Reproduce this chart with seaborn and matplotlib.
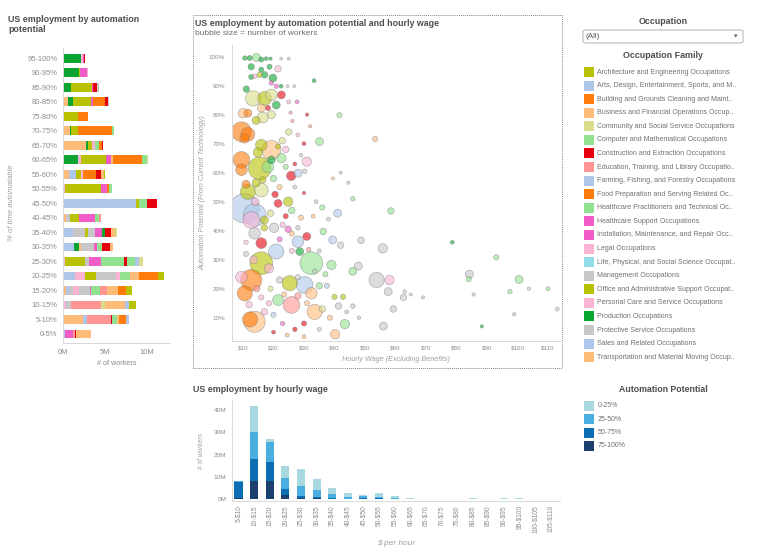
"""US employment by automation potential and hourly wage dashboard."""

import matplotlib.pyplot as plt
from matplotlib.patches import Rectangle, FancyBboxPatch
import seaborn as sns
import pandas as pd

W, H = 768, 555

# ---- occupation families (legend order) ----
FAMILIES = [
    "Architecture and Engineering Occupations",
    "Arts, Design, Entertainment, Sports, and Media Occupations",
    "Building and Grounds Cleaning and Maintenance Occupations",
    "Business and Financial Operations Occupations",
    "Community and Social Service Occupations",
    "Computer and Mathematical Occupations",
    "Construction and Extraction Occupations",
    "Education, Training, and Library Occupations",
    "Farming, Fishing, and Forestry Occupations",
    "Food Preparation and Serving Related Occupations",
    "Healthcare Practitioners and Technical Occupations",
    "Healthcare Support Occupations",
    "Installation, Maintenance, and Repair Occupations",
    "Legal Occupations",
    "Life, Physical, and Social Science Occupations",
    "Management Occupations",
    "Office and Administrative Support Occupations",
    "Personal Care and Service Occupations",
    "Production Occupations",
    "Protective Service Occupations",
    "Sales and Related Occupations",
    "Transportation and Material Moving Occupations",
]
FAMILY_LABELS = [
    "Architecture and Engineering Occupations",
    "Arts, Design, Entertainment, Sports, and M..",
    "Building and Grounds Cleaning and Maint..",
    "Business and Financial Operations Occup..",
    "Community and Social Service Occupations",
    "Computer and Mathematical Occupations",
    "Construction and Extraction Occupations",
    "Education, Training, and Library Occupatio..",
    "Farming, Fishing, and Forestry Occupations",
    "Food Preparation and Serving Related Oc..",
    "Healthcare Practitioners and Technical Oc..",
    "Healthcare Support Occupations",
    "Installation, Maintenance, and Repair Occ..",
    "Legal Occupations",
    "Life, Physical, and Social Science Occupat..",
    "Management Occupations",
    "Office and Administrative Support Occupat..",
    "Personal Care and Service Occupations",
    "Production Occupations",
    "Protective Service Occupations",
    "Sales and Related Occupations",
    "Transportation and Material Moving Occup..",
]
FAMILY_COLORS = [
    "#b8c200", "#aec7e8", "#ff7b0a", "#ffbb78", "#d9dc8a", "#90e28e",
    "#e6000e", "#ff9492", "#aec7e8", "#ff7b0a", "#90e28e", "#f25cc6",
    "#f25cc6", "#f9b4d4", "#92dde8", "#c7c7c7", "#b8c200", "#f9b4d4",
    "#0aa531", "#c7c7c7", "#aec7e8", "#ffbb78",
]

# ---- left chart: workers (M) per automation band, stacked by family ----
AUTO_BANDS = ["95-100%", "90-95%", "85-90%", "80-85%", "75-80%", "70-75%",
              "65-70%", "60-65%", "55-60%", "50-55%", "45-50%", "40-45%",
              "35-40%", "30-35%", "25-30%", "20-25%", "15-20%", "10-15%",
              "5-10%", "0-5%"]
band_families = [
    [18, 17, 11, 6],
    [18, 16, 11, 17],
    [18, 16, 11, 6, 15],
    [21, 20, 18, 16, 11, 9, 6, 15],
    [16, 9],
    [21, 18, 16, 9, 10],
    [21, 18, 16, 17, 10, 9, 6],
    [18, 17, 16, 11, 21, 9, 10, 4],
    [21, 20, 16, 17, 9, 6, 21, 16],
    [17, 16, 11, 9, 10],
    [20, 16, 10, 6, 15],
    [21, 15, 16, 11, 10, 7],
    [20, 15, 16, 15, 11, 18, 6, 21, 4],
    [20, 18, 21, 15, 11, 10, 6, 21],
    [17, 16, 15, 11, 10, 6, 10, 20, 4],
    [20, 17, 16, 15, 17, 10, 21, 9, 16],
    [21, 20, 15, 17, 15, 11, 10, 7, 21, 9, 16],
    [17, 15, 7, 4, 21, 20, 16],
    [21, 20, 7, 6, 10, 21, 9, 20],
    [20, 11, 7, 6, 21],
]
band_workers = [
    [2.15, 0.2, 0.15, 0.08],
    [1.9, 0.15, 0.8, 0.1],
    [0.9, 2.55, 0.15, 0.5, 0.15],
    [0.55, 0.1, 0.6, 2.1, 0.25, 1.45, 0.3, 0.1],
    [1.8, 1.15],
    [0.8, 0.15, 0.8, 4.1, 0.3],
    [2.8, 0.15, 0.5, 0.4, 0.4, 0.45, 0.1],
    [1.8, 0.4, 3.0, 0.5, 0.25, 3.5, 0.6, 0.1],
    [0.7, 0.9, 0.6, 0.2, 1.6, 0.6, 0.3, 0.15],
    [0.25, 4.3, 0.7, 0.3, 0.3],
    [8.7, 0.4, 0.95, 1.2, 0.05],
    [0.3, 0.5, 1.1, 1.9, 0.5, 0.2],
    [1.2, 1.45, 0.4, 0.75, 0.9, 0.3, 0.8, 0.4, 0.25],
    [1.3, 0.65, 0.25, 1.45, 0.4, 0.6, 1.0, 0.3],
    [0.25, 2.35, 0.5, 1.4, 2.8, 0.3, 1.0, 0.5, 0.5],
    [1.4, 1.2, 1.4, 2.3, 0.55, 1.2, 1.1, 2.2, 0.7],
    [0.3, 0.4, 0.55, 0.65, 1.3, 0.2, 1.05, 0.8, 1.3, 0.95, 0.7],
    [0.4, 0.6, 3.5, 0.5, 2.45, 0.5, 0.8],
    [2.4, 0.5, 2.9, 0.1, 0.55, 0.25, 0.8, 0.4],
    [0.25, 0.9, 0.3, 0.1, 1.85],
]

# ---- bubble chart: one bubble per occupation ----
bub_wage = [
    10.6, 12.2, 14.4, 16.0, 17.6, 19.0, 22.5, 25.0, 12.7, 12.7, 16.0, 18.7,
    21.5, 15.4, 13.9, 17.1, 19.8, 19.3, 20.9, 22.5, 24.6, 26.8, 33.3, 11.1,
    13.3, 17.1, 19.3, 22.6, 20.9, 25.0, 27.7, 10.0, 11.6, 16.0, 18.2, 14.3,
    16.5, 19.3, 25.6, 26.2, 41.6, 9.5, 11.6, 10.5, 35.1, 53.3, 19.3, 16.0,
    14.9, 21.5, 24.0, 22.9, 25.0, 9.5, 9.5, 15.5, 18.2, 19.3, 22.6, 30.9,
    25.8, 28.0, 30.2, 11.0, 14.3, 16.5, 11.6, 16.0, 20.5, 24.8, 21.5, 10.5,
    13.8, 12.7, 17.0, 46.0, 58.5, 41.0, 13.8, 16.0, 17.0, 20.2, 23.0, 24.8,
    28.0, 30.9, 36.3, 39.4, 42.0, 48.7, 55.8, 16.0, 20.9, 18.5, 28.6, 32.4,
    39.0, 47.8, 46.0, 12.7, 9.5, 10.6, 25.3, 30.2, 32.4, 21.5, 25.9, 13.8,
    12.3, 33.5, 53.8, 58.0, 57.6, 62.6, 59.3, 56.0, 43.4, 40.2, 41.3, 40.0,
    42.8, 78.6, 84.2, 84.0, 85.6, 88.3, 93.0, 97.5, 100.5, 103.7, 98.9, 110.0,
    113.0, 69.0, 65.0, 63.0, 27.0, 30.0, 34.0, 36.0, 38.0, 33.0, 26.0, 29.0,
    24.0, 22.0, 26.0, 35.0, 37.0, 35.0, 37.5, 28.0, 22.0, 19.0, 23.5, 28.0,
    31.0, 36.0, 38.5, 30.0, 27.0, 23.0, 20.0, 17.0, 20.0, 44.0, 46.0, 48.0,
    30.0, 24.5, 35.0, 32.0, 31.0, 28.0, 30.0, 29.0, 42.0, 44.5, 39.5, 24.0,
    27.0, 20.0, 22.0, 14.0, 19.0, 11.0, 13.5, 11.0, 14.5, 16.0, 18.5, 12.0,
    26.0, 28.0, 33.5, 31.5,
]
bub_auto = [
    99.5, 99.5, 99.7, 99.0, 99.3, 99.3, 99.3, 99.3, 96.5, 93.0, 95.5, 96.5,
    95.8, 93.7, 93.2, 93.7, 92.6, 90.9, 89.8, 89.8, 89.8, 89.8, 91.7, 88.8,
    85.6, 85.6, 86.8, 86.8, 83.3, 84.4, 84.4, 80.5, 80.5, 82.3, 82.3, 78.0,
    79.0, 80.0, 80.7, 77.8, 79.8, 74.1, 73.2, 71.8, 70.7, 71.6, 67.8, 69.5,
    67.0, 69.0, 68.0, 71.0, 74.0, 64.4, 61.0, 61.5, 62.0, 64.4, 65.0, 63.8,
    58.9, 59.8, 60.5, 56.0, 56.5, 57.5, 53.4, 54.0, 52.5, 50.0, 49.4, 47.7,
    45.4, 43.7, 43.7, 51.0, 46.8, 46.0, 39.1, 35.7, 41.0, 41.0, 42.0, 40.5,
    36.2, 38.0, 39.7, 36.8, 35.0, 36.7, 33.9, 28.8, 32.8, 27.0, 32.8, 28.8,
    28.2, 27.8, 26.0, 23.0, 24.0, 18.4, 21.9, 21.3, 18.4, 16.1, 14.4, 8.6,
    9.4, 12.0, 23.0, 23.0, 19.0, 17.0, 13.0, 7.1, 7.8, 4.3, 14.0, 17.2,
    17.2, 36.0, 25.0, 23.3, 18.0, 7.0, 30.8, 19.0, 23.2, 20.0, 11.2, 20.0,
    13.0, 17.0, 18.0, 19.0, 55.0, 53.0, 50.0, 48.0, 44.0, 45.0, 47.0, 44.5,
    45.0, 37.0, 33.0, 33.0, 25.0, 21.0, 21.0, 24.0, 23.0, 20.0, 18.0, 17.5,
    15.0, 13.0, 10.0, 8.0, 6.0, 8.0, 5.0, 12.0, 11.0, 12.0, 14.0, 10.0,
    3.5, 4.0, 6.0, 76.0, 80.0, 73.0, 70.0, 66.0, 60.0, 56.5, 58.0, 62.0,
    63.0, 58.0, 55.0, 50.0, 46.0, 32.0, 30.0, 36.0, 20.0, 17.0, 15.0, 14.5,
    39.0, 41.0, 26.0, 33.5,
]
bub_workers = [
    0.075, 0.11, 0.30, 0.11, 0.05, 0.03, 0.012, 0.012, 0.19, 0.11, 0.11, 0.11,
    0.19, 0.11, 0.075, 0.19, 0.30, 0.075, 0.075, 0.05, 0.012, 0.012, 0.05, 0.19,
    1.18, 0.96, 0.67, 0.30, 0.30, 0.05, 0.05, 0.43, 0.30, 0.30, 0.11, 0.30,
    0.58, 0.30, 0.027, 0.027, 0.11, 2.0, 0.96, 0.43, 0.30, 0.11, 1.85, 0.67,
    0.43, 0.11, 0.19, 0.19, 0.19, 1.43, 0.67, 2.66, 0.67, 0.30, 0.43, 0.43,
    0.43, 0.30, 0.075, 0.30, 0.30, 0.19, 1.18, 0.96, 0.19, 0.43, 0.30, 4.5,
    2.66, 1.43, 0.30, 0.075, 0.19, 0.30, 0.67, 0.58, 0.19, 0.43, 0.11, 0.19,
    0.67, 0.30, 0.19, 0.30, 0.19, 0.19, 0.43, 2.66, 1.18, 0.43, 0.30, 2.66,
    0.43, 0.30, 0.30, 2.3, 0.67, 1.18, 1.18, 1.43, 0.67, 0.58, 1.43, 2.3,
    1.18, 1.18, 1.18, 0.43, 0.30, 0.19, 0.19, 0.30, 0.43, 0.43, 0.19, 0.11,
    0.11, 0.05, 0.30, 0.11, 0.027, 0.027, 0.11, 0.075, 0.30, 0.027, 0.027, 0.05,
    0.05, 0.02, 0.02, 0.03, 0.05, 0.03, 0.05, 0.11, 0.05, 0.05, 0.19, 0.11,
    0.11, 0.11, 0.11, 0.05, 0.11, 0.19, 0.11, 0.11, 0.19, 0.11, 0.11, 0.19,
    0.11, 0.19, 0.11, 0.11, 0.075, 0.075, 0.05, 0.19, 0.11, 0.05, 0.075, 0.03,
    0.05, 0.05, 0.05, 0.03, 0.03, 0.05, 0.05, 0.03, 0.02, 0.02, 0.02, 0.11,
    0.05, 0.19, 0.11, 0.30, 0.19, 0.11, 0.30, 0.075, 0.19, 0.11, 0.11, 0.19,
    0.11, 0.075, 0.075, 0.075,
]
bub_family = [
    18, 18, 10, 18, 18, 18, 15, 15, 18, 18, 18, 18,
    17, 16, 17, 18, 18, 11, 11, 18, 15, 15, 18, 18,
    4, 16, 4, 6, 18, 17, 11, 21, 9, 21, 6, 16,
    4, 4, 7, 7, 10, 9, 9, 9, 10, 21, 21, 16,
    16, 16, 17, 4, 4, 9, 9, 16, 5, 18, 10, 17,
    6, 1, 15, 9, 16, 16, 16, 4, 6, 16, 6, 20,
    20, 17, 16, 10, 10, 1, 15, 6, 16, 15, 17, 11,
    20, 6, 10, 1, 15, 15, 15, 16, 20, 17, 18, 10,
    10, 15, 10, 9, 17, 9, 16, 20, 21, 10, 7, 21,
    9, 21, 15, 17, 15, 15, 15, 15, 10, 21, 15, 16,
    16, 18, 15, 10, 15, 18, 10, 10, 10, 15, 15, 10,
    15, 15, 15, 15, 15, 6, 15, 10, 15, 21, 10, 21,
    6, 11, 17, 15, 10, 10, 20, 15, 15, 4, 21, 7,
    21, 4, 21, 6, 6, 11, 6, 17, 1, 15, 15, 15,
    21, 21, 15, 7, 6, 17, 6, 15, 15, 15, 21, 10,
    6, 10, 21, 17, 4, 15, 17, 17, 7, 17, 17, 17,
    21, 15, 15, 7,
]

# ---- bottom chart: workers (M) per hourly wage bin, by automation potential ----
WAGE_BINS = ["5-$10", "10-$15", "15-$20", "20-$25", "25-$30", "30-$35", "35-$40",
             "40-$45", "45-$50", "50-$55", "55-$60", "60-$65", "65-$70", "70-$75",
             "75-$80", "80-$85", "85-$90", "90-$95", "95-$100", "100-$105", "105-$110"]
POTENTIAL_LEVELS = ["0-25%", "25-50%", "50-75%", "75-100%"]
POTENTIAL_COLORS = ["#a9d8e0", "#4aaee0", "#0b6db3", "#1b406f"]
pot_0_25 = [0.0, 11.3, 1.5, 5.6, 8.0, 4.8, 2.8, 2.0, 0.6, 1.9, 1.0,
            0.4, 0.1, 0.05, 0.05, 0.4, 0.1, 0.3, 0.35, 0.05, 0.05]
pot_25_50 = [0.2, 12.4, 8.8, 4.7, 4.2, 3.1, 1.9, 0.7, 1.0, 0.7, 0.5,
             0.0, 0.0, 0.0, 0.0, 0.0, 0.0, 0.0, 0.0, 0.0, 0.0]
pot_50_75 = [7.4, 10.0, 8.8, 2.9, 0.9, 0.6, 0.3, 0.2, 0.4, 0.3, 0.0,
             0.0, 0.0, 0.0, 0.0, 0.0, 0.0, 0.0, 0.0, 0.0, 0.0]
pot_75_100 = [0.3, 7.9, 7.9, 1.8, 0.6, 0.3, 0.0, 0.0, 0.0, 0.0, 0.0,
              0.0, 0.0, 0.0, 0.0, 0.0, 0.0, 0.0, 0.0, 0.0, 0.0]

TITLE_C = "#4d4d4d"
TICK_C = "#8c8c8c"
AXIS_C = "#d9d9d9"


def px_axes(fig, x0, y0, x1, y1):
    """Axes placed by pixel box (top-left origin)."""
    return fig.add_axes([x0 / W, 1 - y1 / H, (x1 - x0) / W, (y1 - y0) / H])


def px_text(fig, x, y, s, **kw):
    kw.setdefault("va", "center")
    return fig.text(x / W, 1 - y / H, s, **kw)


def style_axes(ax):
    for side in ["top", "right"]:
        ax.spines[side].set_visible(False)
    for side in ["left", "bottom"]:
        ax.spines[side].set_color(AXIS_C)
        ax.spines[side].set_linewidth(0.7)
    ax.set_facecolor("none")


sns.set_theme(style="white")
plt.rcParams["font.family"] = ["Liberation Sans", "DejaVu Sans"]

fig = plt.figure(figsize=(W / 100, H / 100), dpi=100)
fam_color = dict(zip(FAMILIES, FAMILY_COLORS))

# ---------- left: stacked horizontal bars ----------
ax1 = px_axes(fig, 63, 48, 170, 343)
for row, (fams, vals) in enumerate(zip(band_families, band_workers)):
    left = 0.0
    for f, v in zip(fams, vals):
        ax1.barh(row, v, left=left, height=0.6, color=FAMILY_COLORS[f], linewidth=0)
        left += v
ax1.set_ylim(19.62, -0.7)
ax1.set_xlim(0, 12.8)
ax1.set_yticks(range(len(AUTO_BANDS)))
ax1.set_yticklabels(AUTO_BANDS)
ax1.set_xticks([0, 5, 10])
ax1.set_xticklabels(["0M", "5M", "10M"])
ax1.tick_params(axis="y", length=0, pad=4, labelsize=5.4, labelcolor=TICK_C)
ax1.tick_params(axis="x", length=0, pad=4, labelsize=5.4, labelcolor=TICK_C)
ax1.set_xlabel("# of workers", fontsize=5.2, color=TICK_C, labelpad=3)
style_axes(ax1)
px_text(fig, 12, 203, "% of time automatable", fontsize=5.6, color="#a0a0a0",
        rotation=90, ha="center", style="italic")
px_text(fig, 8, 24.5, "US employment by automation\npotential", fontsize=6.4,
        fontweight="bold", color=TITLE_C, ha="left", linespacing=1.1)

# ---------- middle: bubble chart ----------
bub = pd.DataFrame({
    "wage": bub_wage,
    "auto": bub_auto,
    "workers": bub_workers,
    "family": [FAMILIES[i] for i in bub_family],
}).sort_values("workers", ascending=False)

ax2 = px_axes(fig, 232, 45, 560, 341)
sns.scatterplot(data=bub, x="wage", y="auto", hue="family", palette=fam_color,
                size="workers", sizes=(3, 450), size_norm=(0, 4.5),
                alpha=0.6, edgecolor="#7a7a7a", linewidth=0.45,
                legend=False, ax=ax2)
ax2.set_xlim(6.4, 113.9)
ax2.set_ylim(1.97, 104.0)
ax2.set_xticks(range(10, 111, 10))
ax2.set_xticklabels([f"${v}" for v in range(10, 111, 10)])
ax2.set_yticks(range(10, 101, 10))
ax2.set_yticklabels([f"{v}%" for v in range(10, 101, 10)])
ax2.tick_params(axis="both", length=2, width=0.5, color=AXIS_C, pad=3,
                labelsize=4.5, labelcolor=TICK_C)
ax2.tick_params(axis="x", direction="in")
ax2.set_xlabel("Hourly Wage (Excluding Benefits)", fontsize=5.2, color="#a0a0a0",
               style="italic", labelpad=4)
ax2.set_ylabel("Automation Potential (From Current Technology)", fontsize=5.2,
               color="#a0a0a0", style="italic", labelpad=2)
style_axes(ax2)
fig.add_artist(Rectangle((193 / W, 1 - 368 / H), 369 / W, 353 / H,
                         transform=fig.transFigure, fill=False, ec="#8a8a8a",
                         lw=0.7, ls=(0, (1, 1))))
px_text(fig, 195, 23.5, "US employment by automation potential and hourly wage",
        fontsize=6.4, fontweight="bold", color=TITLE_C, ha="left")
px_text(fig, 195, 33.5, "bubble size = number of workers", fontsize=6.0,
        color="#6e6e6e", ha="left")

# ---------- bottom: stacked bars by wage ----------
ax3 = px_axes(fig, 232, 400, 560, 501)
hist = pd.DataFrame({"bin": WAGE_BINS, "p0": pot_0_25, "p25": pot_25_50,
                     "p50": pot_50_75, "p75": pot_75_100})
layers = [
    hist["p0"] + hist["p25"] + hist["p50"] + hist["p75"],
    hist["p25"] + hist["p50"] + hist["p75"],
    hist["p50"] + hist["p75"],
    hist["p75"],
]
for cum, col in zip(layers, POTENTIAL_COLORS):
    sns.barplot(x=hist["bin"], y=cum, order=WAGE_BINS, color=col, saturation=1,
                width=0.52, errorbar=None, linewidth=0, ax=ax3)
ax3.set_xlim(-0.42, 20.6)
ax3.set_ylim(-0.9, 44.5)
ax3.set_yticks([0, 10, 20, 30, 40])
ax3.set_yticklabels(["0M", "10M", "20M", "30M", "40M"])
ax3.tick_params(axis="y", length=2, width=0.5, color=AXIS_C, pad=2,
                labelsize=4.6, labelcolor=TICK_C)
ax3.tick_params(axis="x", length=0, pad=3, labelsize=4.8, labelcolor=TICK_C,
                labelrotation=90)
ax3.set_xlabel("$ per hour", fontsize=6.0, color="#a0a0a0", style="italic",
               labelpad=5)
ax3.set_ylabel("# of workers", fontsize=4.8, color="#a0a0a0", style="italic",
               labelpad=6)
style_axes(ax3)
px_text(fig, 193, 389, "US employment by hourly wage", fontsize=6.4,
        fontweight="bold", color=TITLE_C, ha="left")

# ---------- right: filter + legends ----------
px_text(fig, 663, 21, "Occupation", fontsize=6.4, fontweight="bold",
        color=TITLE_C, ha="center")
fig.add_artist(FancyBboxPatch((583 / W, 1 - 43 / H), 160 / W, 13 / H,
                              boxstyle="round,pad=0,rounding_size=0.003",
                              transform=fig.transFigure, fc="white",
                              ec="#b0b0b0", lw=0.7))
px_text(fig, 586, 36.5, "(All)", fontsize=5.8, color="#555555", ha="left")
px_text(fig, 736, 36, "\u25be", fontsize=5, color="#666666", ha="center",
        family="DejaVu Sans")
px_text(fig, 663, 55.5, "Occupation Family", fontsize=6.4, fontweight="bold",
        color=TITLE_C, ha="center")
for i, (lab, col) in enumerate(zip(FAMILY_LABELS, FAMILY_COLORS)):
    y = 72 + i * 13.58
    fig.add_artist(Rectangle((584 / W, 1 - (y + 5) / H), 10 / W, 10 / H,
                             transform=fig.transFigure, fc=col, ec="none"))
    px_text(fig, 597, y, lab, fontsize=5.0, color="#707070", ha="left")

px_text(fig, 663, 389, "Automation Potential", fontsize=6.3, fontweight="bold",
        color=TITLE_C, ha="center")
for i, (lab, col) in enumerate(zip(POTENTIAL_LEVELS, POTENTIAL_COLORS)):
    y = 405.7 + i * 13.4
    fig.add_artist(Rectangle((584 / W, 1 - (y + 5) / H), 10 / W, 10 / H,
                             transform=fig.transFigure, fc=col, ec="none"))
    px_text(fig, 598, y, lab, fontsize=5.0, color="#707070", ha="left")

fig.savefig("out.png", dpi=100)
plt.close(fig)
